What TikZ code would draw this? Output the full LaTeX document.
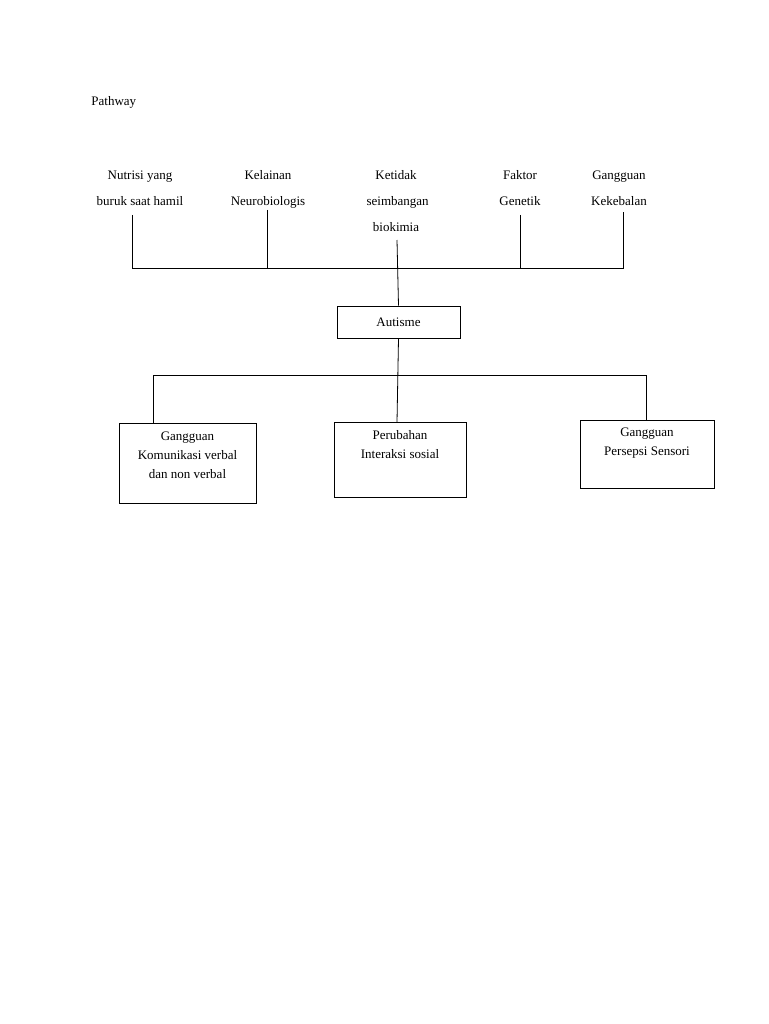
\documentclass[tikz,border=0pt]{standalone}
\usepackage{fontspec}
\setmainfont{Liberation Serif}
\usetikzlibrary{positioning}
\tikzset{cause/.style={align=center,anchor=north,inner sep=0pt,font=\fontsize{13}{26}\selectfont},
         box/.style={draw,thick,anchor=north west,align=center,inner sep=0pt},
         btext/.style={align=center,anchor=north,inner sep=0pt,font=\fontsize{13}{19}\selectfont},
        }
\begin{document}
\begin{tikzpicture}[x=1pt,y=-1pt,line width=0.8pt]
        \useasboundingbox (0,0) rectangle (768,1024);
        \node[anchor=north west,inner sep=0pt,font=\fontsize{13}{15}\selectfont](title)at(91,96){Pathway};

        \node[cause](nutrisi)at(140,170){Nutrisi yang\\buruk saat hamil};
        \node[cause](kelainan)at(268,170){Kelainan\\Neurobiologis};
        \node[cause](ketidak)at(396,170){Ketidak\\\ seimbangan\\biokimia};
        \node[cause](faktor)at(520,170){Faktor\\Genetik};
        \node[cause](kekebalan)at(619,170){Gangguan\\Kekebalan};

        \coordinate(c1)at(132,215);\coordinate(j1)at(132,268);
        \coordinate(c2)at(267,210);\coordinate(j2)at(267,268);
        \coordinate(c3)at(397,240);\coordinate(j3)at(397,268);
        \coordinate(c4)at(520,215);\coordinate(j4)at(520,268);
        \coordinate(c5)at(623,212);\coordinate(j5)at(623,268);
        \draw(c1)--(j1)--(j5)--(c5);
        \draw(c2)--(j2);
        \draw(c4)--(j4);

        \node[draw,thick,minimum width=123pt,minimum height=32pt,inner sep=0pt,font=\fontsize{13}{15}\selectfont](autisme)at(398.5,322){Autisme};
        \draw(c3)--(autisme.north);

        \draw[thick](119,423)rectangle(256,503);
        \node[btext](komunikasi)at(187.5,431){Gangguan\\Komunikasi verbal\\dan non verbal};
        \draw[thick](334,422)rectangle(466,497);
        \node[btext](interaksi)at(400,430){Perubahan\\Interaksi sosial};
        \draw[thick](580,420)rectangle(714,488);
        \node[btext](persepsi)at(647,427){Gangguan\\Persepsi Sensori};

        \coordinate(s1)at(153,375);\coordinate(s2)at(397,375);\coordinate(s3)at(646,375);
        \coordinate(b1)at(153,423);\coordinate(b2)at(397,422);\coordinate(b3)at(646,420);
        \draw(autisme.south)--(b2);
        \draw(b1)--(s1)--(s3)--(b3);
    \end{tikzpicture}
\end{document}
